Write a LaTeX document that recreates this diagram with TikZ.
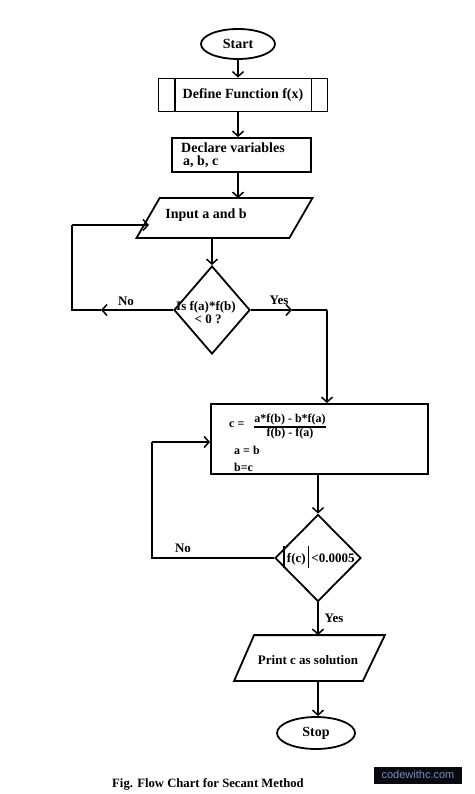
\documentclass[tikz,border=0pt]{standalone}
\usepackage{fontspec}
\setmainfont{Liberation Serif}
\newfontfamily\wmfont{Liberation Sans}
\usetikzlibrary{shapes.geometric,arrows.meta,calc}
\definecolor{wmblue}{RGB}{120,142,196}
\definecolor{wmbg}{RGB}{8,10,16}
\begin{document}
\begin{tikzpicture}[x=1pt,y=-1pt,line width=1.8pt,
  arr/.style={-{Straight Barb[length=5pt,width=11pt,line width=1.5pt]}},
  big/.style={font=\bfseries\fontsize{14}{16}\selectfont},
  mid/.style={font=\bfseries\fontsize{13}{15}\selectfont},
  sml/.style={font=\bfseries\fontsize{12}{13}\selectfont},
  shp/.style={draw,line width=1.8pt,inner sep=0pt},
  ghost/.style={draw=none,inner sep=0pt}]
\path[use as bounding box] (0,0) rectangle (474,794);
\fill[white] (0,0) rectangle (474,794);

% Start
\node[shp,ellipse,minimum width=74pt,minimum height=30pt,big] (start) at (238,44) {Start};
% Define function
\node[shp,rectangle,minimum width=169pt,minimum height=33pt] (def) at (243,95) {};
\node[big] (deft) at (243,95) {Define Function f(x)};
\draw ([xshift=17pt]def.north west) -- ([xshift=17pt]def.south west);
\draw ([xshift=-17pt]def.north east) -- ([xshift=-17pt]def.south east);
% Declare
\node[shp,rectangle,minimum width=139pt,minimum height=34pt] (decl) at (241.5,155) {};
\node[big,align=left,anchor=west] (declt) at (177,155) {Declare variables\\[-3pt]\hspace{2pt}a, b, c};
% Input parallelogram
\node[ghost,minimum width=151pt,minimum height=38pt] (inp) at (224,218) {};
\draw ($(inp.north west)+(12pt,0)$) -- ($(inp.north east)+(12pt,0)$)
      -- ($(inp.south east)+(-11pt,0)$) -- ($(inp.south west)+(-11pt,0)$) -- cycle;
\node[big] (inpt) at (206,215) {Input a and b};
% Diamond 1
\node[shp,diamond,minimum width=76pt,minimum height=88pt] (d1) at (212,310) {};
\node[mid,align=center,inner sep=0pt] (d1t) at (206,313) {Is f(a)*f(b)\\[-2pt]\,\,{<} 0 ?};
% Process box
\node[shp,rectangle,minimum width=217pt,minimum height=70pt] (proc) at (319.5,439) {};
\node[sml,anchor=west] (pc) at (225,425) {c =};
\node[sml,inner sep=0pt] (pfrac) at (290,427) {\setlength\arrayrulewidth{1.3pt}\renewcommand\arraystretch{0.95}\begin{tabular}{@{}c@{}}a*f(b) - b*f(a)\\\hline f(b) - f(a)\end{tabular}};
\node[sml,anchor=west] (pab) at (230,450) {a = b};
\node[sml,anchor=west] (pbc) at (230,467) {b=c};
% Diamond 2
\node[shp,diamond,minimum width=86pt,minimum height=87pt] (d2) at (318,558) {};
\node[mid,inner sep=0pt] (d2t) at (319,557) {\rule[-6pt]{1.4pt}{22pt}\,f(c)\,\rule[-6pt]{1.4pt}{22pt}\,{<}0.0005};
% Print parallelogram
\node[ghost,minimum width=128pt,minimum height=44pt] (prt) at (309,658) {};
\draw ($(prt.north west)+(10pt,0)$) -- ($(prt.north east)+(11pt,0)$)
      -- ($(prt.south east)+(-11pt,0)$) -- ($(prt.south west)+(-10pt,0)$) -- cycle;
\node[mid] (prtt) at (308,660) {Print c as solution};
% Stop
\node[shp,ellipse,minimum width=78pt,minimum height=32pt,big] (stop) at (316,733) {Stop};

% connectors
\draw[arr] (start.south) -- (start.south |- def.north);
\draw[arr] (def.south -| start.south) -- (start.south |- decl.north);
\draw[arr] (decl.south -| start.south) -- (start.south |- inp.north);
\draw[arr] (d1.north |- inp.south) -- (d1.north);
% No branch 1
\coordinate (n1a) at (101,310);
\coordinate (n1b) at (72,310);
\coordinate (n1c) at (72,225);
\coordinate (n1d) at (149,225);
\draw[arr] (d1.west) -- (n1a);
\draw (n1a) -- (n1b) -- (n1c);
\draw[arr] (n1c) -- (n1d);
\node[mid] (no1) at (126,301) {No};
% Yes branch 1
\coordinate (y1a) at (292,310);
\coordinate (y1b) at (327,310);
\draw[arr] (d1.east) -- (y1a);
\draw (y1a) -- (y1b);
\draw[arr] (y1b) -- (y1b |- proc.north);
\node[mid] (yes1) at (279,300) {Yes};
% process to d2
\draw[arr] (proc.south -| d2.north) -- (d2.north);
% No branch 2
\coordinate (n2a) at (152,558);
\coordinate (n2b) at (152,442);
\draw (d2.west) -- (n2a) -- (n2b);
\draw[arr] (n2b) -- (n2b -| proc.west);
\node[mid] (no2) at (183,548) {No};
% Yes branch 2
\draw[arr] (d2.south) -- (d2.south |- prt.north);
\node[mid] (yes2) at (334,618) {Yes};
\draw[arr] (prt.south -| d2.south) -- (d2.south |- stop.north);

% caption
\node[font=\bfseries\fontsize{12.7}{14}\selectfont] (cap) at (208,784) {Fig. Flow Chart for Secant Method};
\node[fill=wmbg,text=wmblue,font=\wmfont\fontsize{11}{12}\selectfont,minimum width=88pt,minimum height=17pt,inner sep=0pt] (wm) at (418,775) {codewithc.com};
\end{tikzpicture}
\end{document}
